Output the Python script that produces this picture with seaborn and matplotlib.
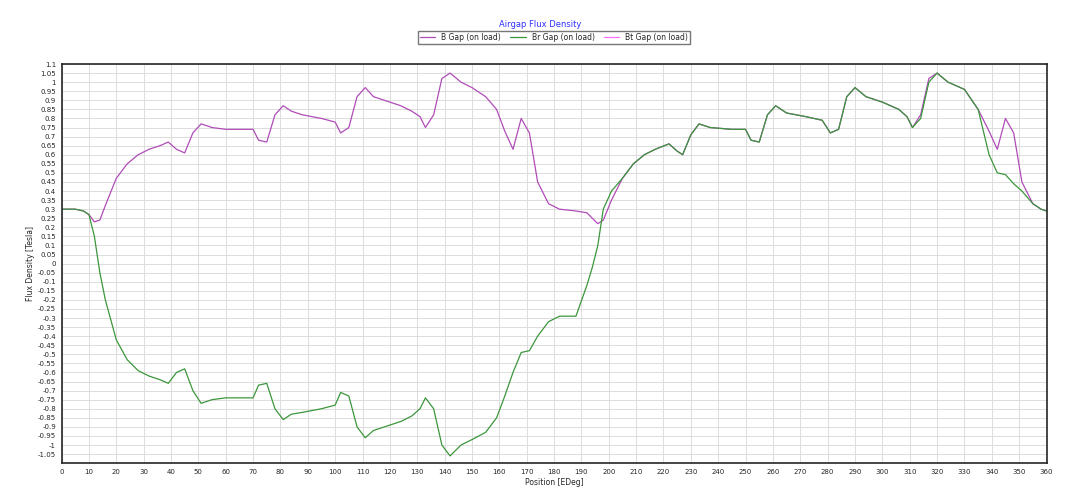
import numpy as np
import pandas as pd
import matplotlib
matplotlib.use("Agg")
import matplotlib.pyplot as plt
import seaborn as sns

pos = [0,5,8,10,12,14,16,20,24,28,32,36,39,42,45,48,51,55,60,65,70,72,75,78,81,84,88,95,100,102,105,108,111,114,118,124,128,131,133,136,139,142,146,150,155,159,162,165,168,171,174,178,182,188,192,194,196,198,201,205,209,213,217,222,225,227,230,233,237,245,250,252,255,258,261,265,272,278,281,284,287,290,294,300,306,309,311,314,317,320,324,330,335,339,342,345,348,351,355,358,360]
b_gap = [0.3,0.3,0.29,0.27,0.23,0.24,0.32,0.47,0.55,0.6,0.63,0.65,0.67,0.63,0.61,0.72,0.77,0.75,0.74,0.74,0.74,0.68,0.67,0.82,0.87,0.84,0.82,0.8,0.78,0.72,0.75,0.92,0.97,0.92,0.9,0.87,0.84,0.81,0.75,0.82,1.02,1.05,1.0,0.97,0.92,0.85,0.73,0.63,0.8,0.72,0.45,0.33,0.3,0.29,0.28,0.25,0.22,0.24,0.35,0.47,0.55,0.6,0.63,0.66,0.62,0.6,0.71,0.77,0.75,0.74,0.74,0.68,0.67,0.82,0.87,0.83,0.81,0.79,0.72,0.74,0.92,0.97,0.92,0.89,0.85,0.81,0.75,0.82,1.02,1.05,1.0,0.96,0.85,0.73,0.63,0.8,0.72,0.45,0.33,0.3,0.29]
br_gap = [0.3,0.3,0.29,0.27,0.15,-0.05,-0.2,-0.42,-0.53,-0.59,-0.62,-0.64,-0.66,-0.6,-0.58,-0.7,-0.77,-0.75,-0.74,-0.74,-0.74,-0.67,-0.66,-0.8,-0.86,-0.83,-0.82,-0.8,-0.78,-0.71,-0.73,-0.9,-0.96,-0.92,-0.9,-0.87,-0.84,-0.8,-0.74,-0.8,-1.0,-1.06,-1.0,-0.97,-0.93,-0.85,-0.73,-0.6,-0.49,-0.48,-0.4,-0.32,-0.29,-0.29,-0.12,-0.02,0.1,0.3,0.4,0.47,0.55,0.6,0.63,0.66,0.62,0.6,0.71,0.77,0.75,0.74,0.74,0.68,0.67,0.82,0.87,0.83,0.81,0.79,0.72,0.74,0.92,0.97,0.92,0.89,0.85,0.81,0.75,0.8,1.0,1.05,1.0,0.96,0.85,0.6,0.5,0.49,0.44,0.4,0.33,0.3,0.29]

df = pd.DataFrame({"pos": pos, "b": b_gap, "br": br_gap})

sns.set_style("white")
plt.rcParams['font.family'] = ['DejaVu Sans']
fig = plt.figure(figsize=(10.8, 5.04), dpi=100)
ax = fig.add_axes([0.057, 0.081, 0.912, 0.792])
sns.lineplot(data=df, x="pos", y="b", ax=ax, color="#b04cb8", lw=0.9, label="B Gap (on load)")
sns.lineplot(data=df, x="pos", y="br", ax=ax, color="#3c963c", lw=0.9, label="Br Gap (on load)")
ax.plot([], [], color="#ff70ff", lw=0.9, label="Bt Gap (on load)")
ax.set_xlim(0, 360)
ax.set_ylim(-1.1, 1.1)
ax.set_xticks(np.arange(0, 361, 10))
yt = np.round(np.arange(-1.05, 1.1001, 0.05), 2)
ax.set_yticks(yt)
ax.set_yticklabels([f"{v:g}" for v in yt])
ax.tick_params(labelsize=5, length=2, pad=2)
ax.grid(True, color="#dcdcdc", lw=0.7)
for s in ax.spines.values():
    s.set_linewidth(1.2)
ax.set_xlabel("Position [EDeg]", fontsize=5.5, labelpad=2)
ax.set_ylabel("Flux Density [Tesla]", fontsize=5.5, labelpad=2)
fig.text(0.5, 0.947, "Airgap Flux Density", color="#3030ff", fontsize=6, ha="center")
ax.legend(loc="lower center", bbox_to_anchor=(0.5, 1.04), ncol=3, fontsize=5.5,
          frameon=True, fancybox=False, edgecolor="#555555", handlelength=2, borderpad=0.3,
          columnspacing=1.2)
fig.savefig("out.png", dpi=100)
